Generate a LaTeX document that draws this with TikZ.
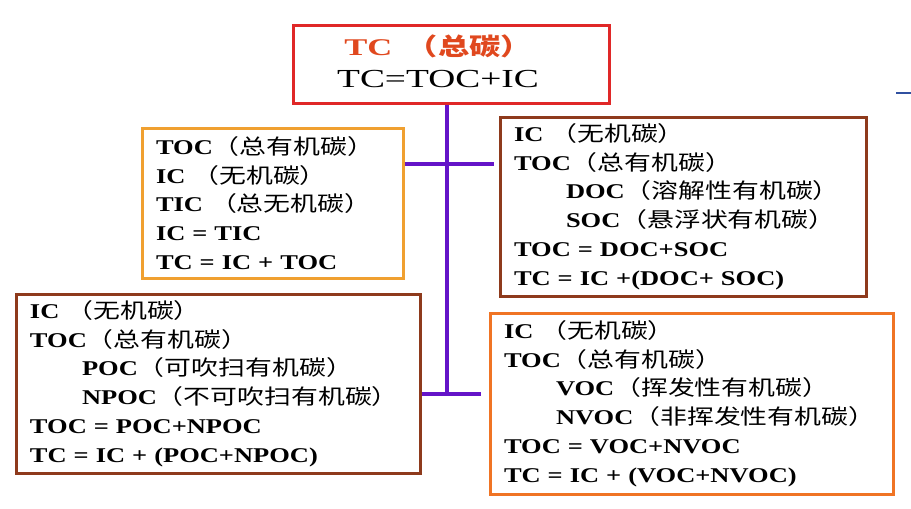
\documentclass[tikz,border=0pt]{standalone}
\usepackage{fontspec}
\setmainfont{Liberation Serif}[FakeStretch=1.26]
\newfontfamily\zhfont{Noto Sans CJK SC}[FakeStretch=1.28]
\newfontfamily\titlefont{Liberation Serif}[FakeStretch=1.44]
\newfontfamily\titlezhfont{Noto Sans CJK SC}[FakeStretch=1.3]
\newcommand*{\zh}[1]{{\zhfont\mdseries #1}}
\newcommand*{\ind}{\hspace*{52pt}}
\definecolor{tcred}{HTML}{E02828}
\definecolor{titlered}{HTML}{E0481E}
\definecolor{goldorange}{HTML}{F0A030}
\definecolor{rustbrown}{HTML}{8E3A1C}
\definecolor{deeporange}{HTML}{F07424}
\definecolor{linkpurple}{HTML}{6414C8}
\definecolor{edgeblue}{HTML}{3050A0}

\begin{document}
\begin{tikzpicture}[x=1pt,y=-1pt,
	box/.style={draw=#1, line width=3pt, align=left, inner xsep=14pt, inner ysep=0pt,
		font=\fontsize{21}{28.7}\selectfont\bfseries},
	link/.style={draw=linkpurple, line width=3.5pt}]

	\useasboundingbox (0,0) rectangle (911,509);

	% top box
	\node[draw=tcred, line width=3pt, minimum width=316pt, minimum height=78pt, align=center, inner sep=0pt,
		font=\fontsize{24}{32}\selectfont] (tc) at (451,64)
		{{\color{titlered}\fontsize{24}{32}\titlefont\bfseries TC\hspace{6pt} \titlezhfont\fontsize{24}{32}\selectfont（总碳）}\hspace*{26pt}\\
		 {\fontsize{26}{32}\titlefont TC=TOC+IC}\hspace*{26pt}\rule[-6pt]{0pt}{6pt}};

	% four boxes
	\node[box=goldorange, text width=233pt, minimum height=150pt] (toc) at (272.5,203)
		{TOC\zh{（总有机碳）}\\
		 IC \zh{（无机碳）}\\
		 TIC \zh{（总无机碳）}\\
		 IC = TIC\\
		 TC = IC + TOC};
	\node[box=rustbrown, text width=338pt, minimum height=179pt] (docsoc) at (683,206.5)
		{IC \zh{（无机碳）}\\
		 TOC\zh{（总有机碳）}\\
		 \ind DOC\zh{（溶解性有机碳）}\\
		 \ind SOC\zh{（悬浮状有机碳）}\\
		 TOC = DOC+SOC\\
		 TC = IC +(DOC+ SOC)};
	\node[box=rustbrown, text width=376pt, minimum height=179pt] (pocnpoc) at (218,383.5)
		{IC \zh{（无机碳）}\\
		 TOC\zh{（总有机碳）}\\
		 \ind POC\zh{（可吹扫有机碳）}\\
		 \ind NPOC\zh{（不可吹扫有机碳）}\\
		 TOC = POC+NPOC\\
		 TC = IC + (POC+NPOC)};
	\node[box=deeporange, text width=375pt, minimum height=181pt] (vocnvoc) at (691.5,403.5)
		{IC \zh{（无机碳）}\\
		 TOC\zh{（总有机碳）}\\
		 \ind VOC\zh{（挥发性有机碳）}\\
		 \ind NVOC\zh{（非挥发性有机碳）}\\
		 TOC = VOC+NVOC\\
		 TC = IC + (VOC+NVOC)};

	% connectors
	\coordinate (j1) at (447,164);
	\coordinate (j2) at (447,394);
	\draw[link] (j1 |- tc.south) -- (j2);
	\draw[link, shorten >=5pt] (toc.east |- j1) -- (docsoc.west |- j1);
	\draw[link, shorten >=8pt] (pocnpoc.east |- j2) -- (vocnvoc.west |- j2);

	% cut-off line at the right edge
	\coordinate (cut) at (911,93);
	\draw[edgeblue, line width=1.5pt] (896,93) -- (cut);

\end{tikzpicture}
\end{document}
